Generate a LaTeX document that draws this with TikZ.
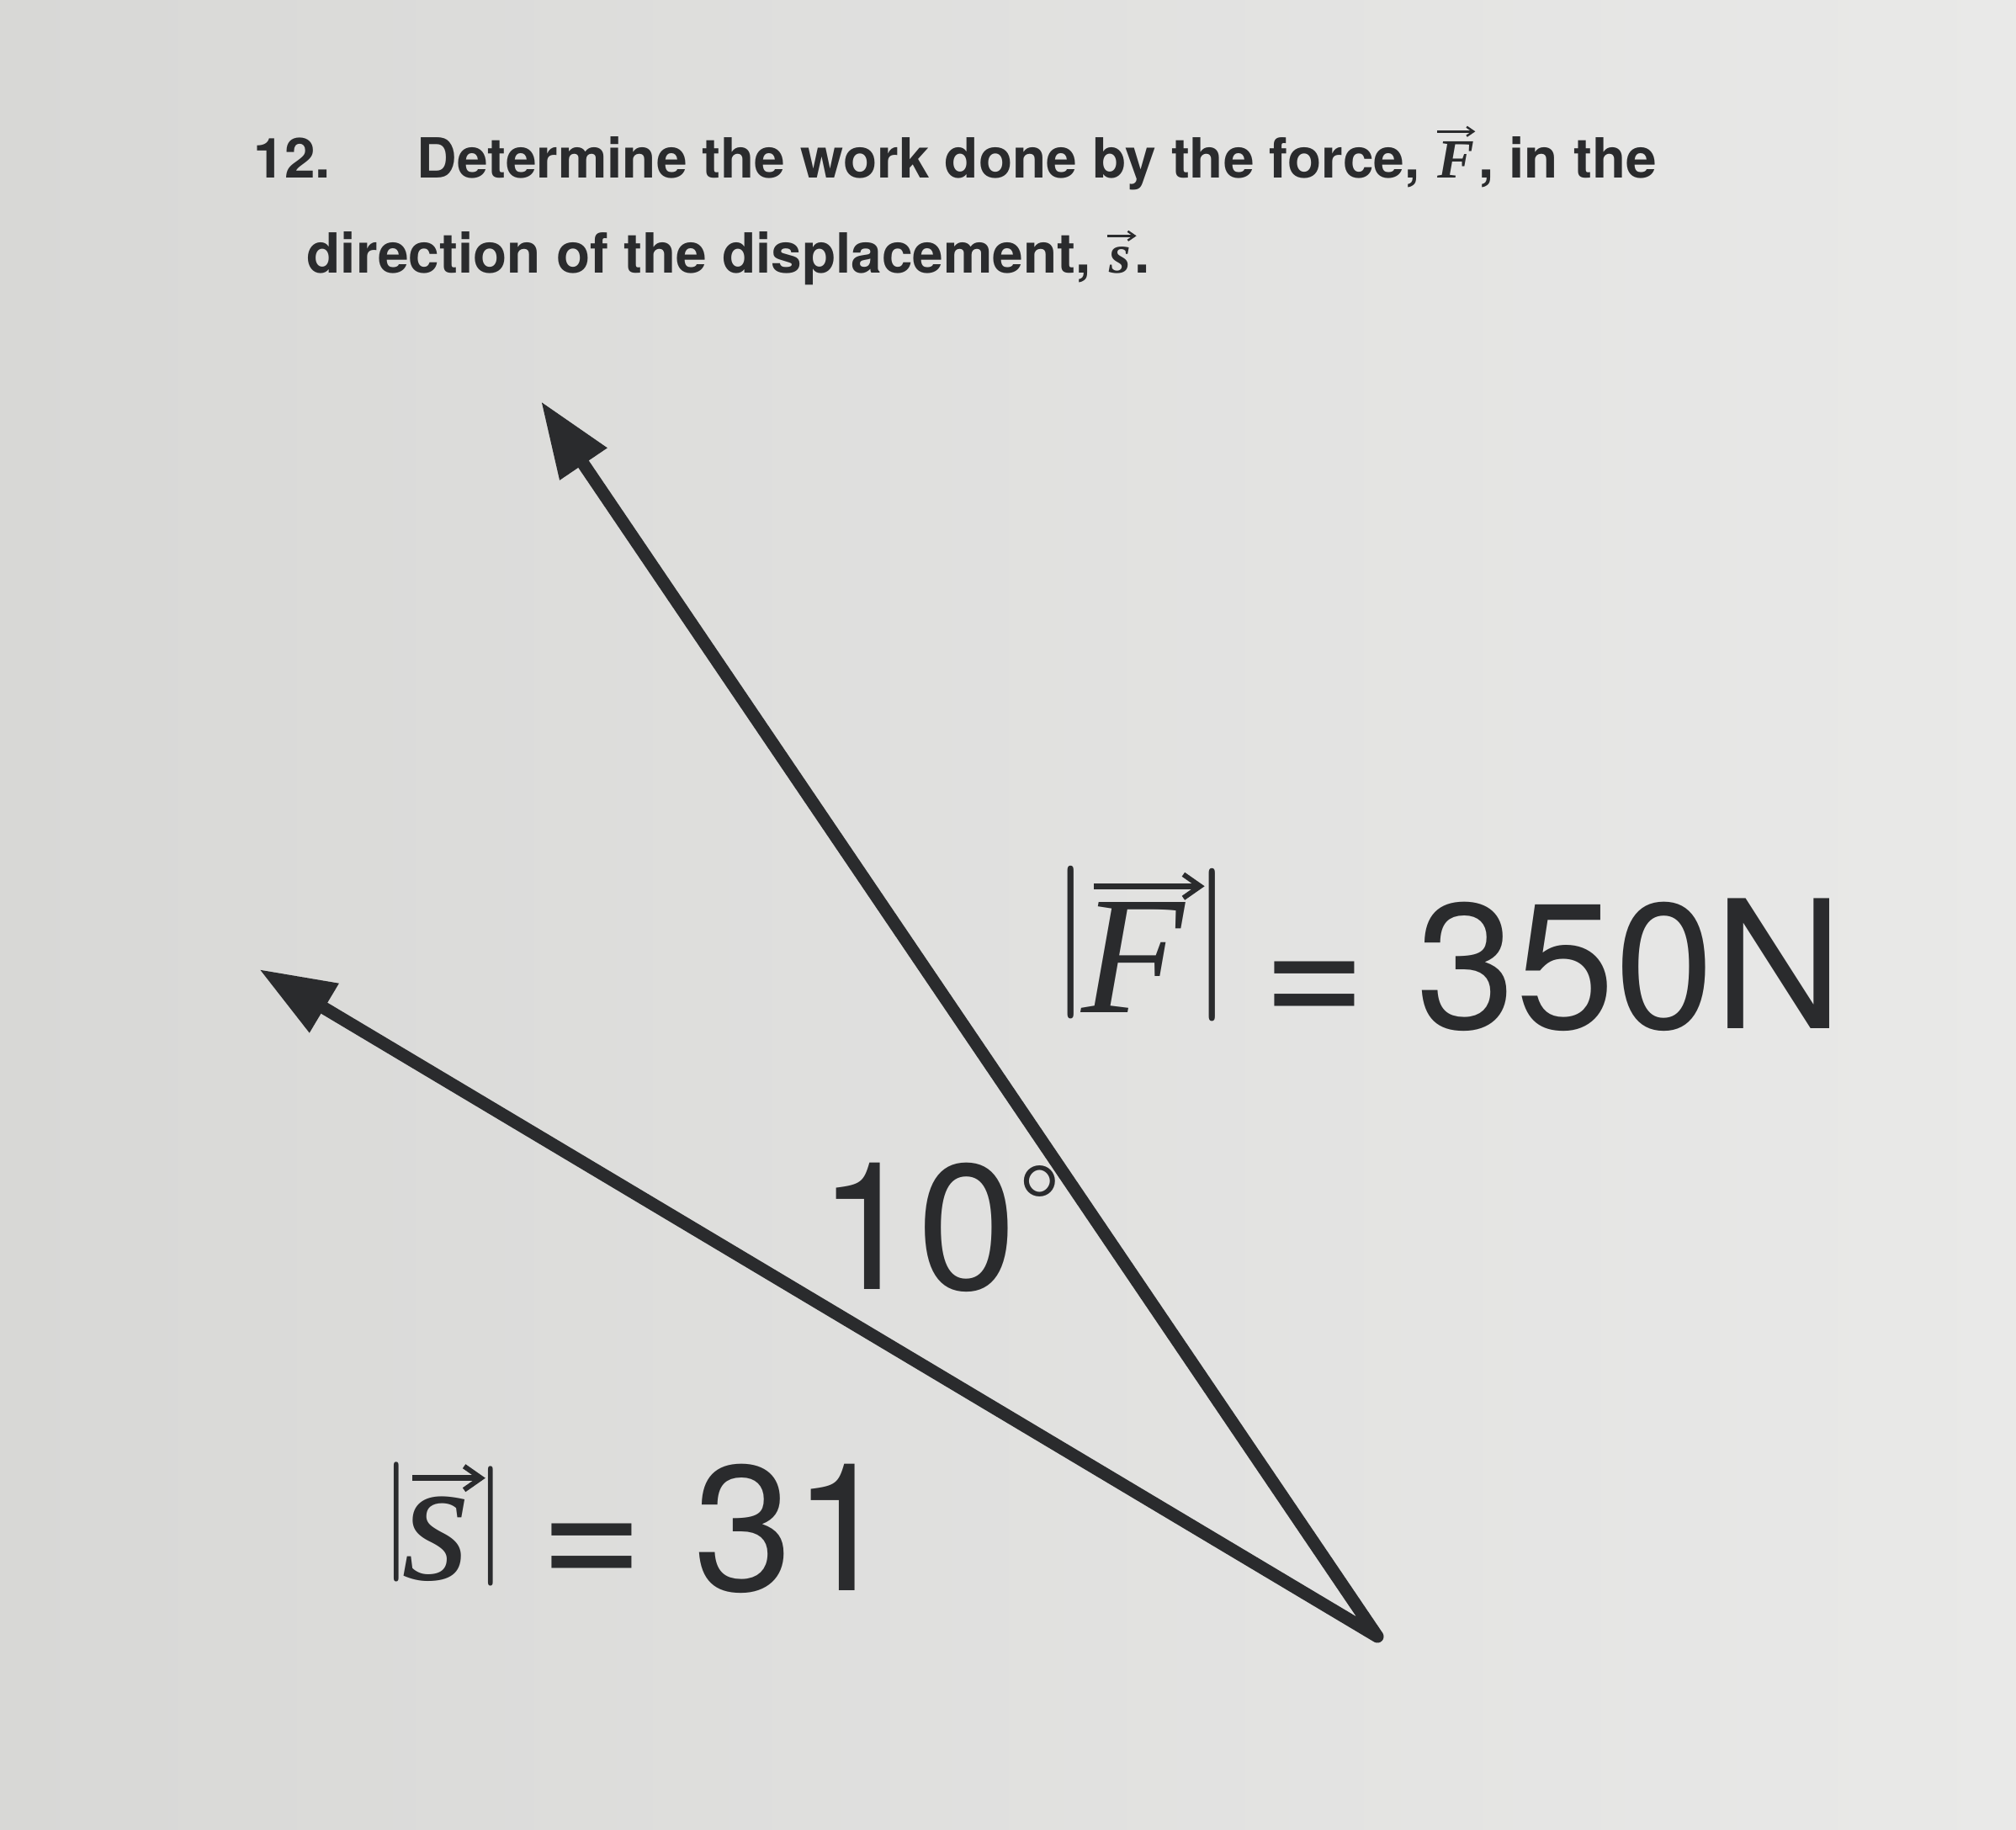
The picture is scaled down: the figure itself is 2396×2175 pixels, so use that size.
\documentclass[tikz,border=0pt]{standalone}
\usepackage{fontspec}
\setmainfont{TeX Gyre Heros}
\newfontfamily\tnr{Liberation Serif}
\usetikzlibrary{arrows.meta}
\definecolor{paperL}{RGB}{216,216,214}
\definecolor{paperR}{RGB}{233,233,232}
\definecolor{ink}{RGB}{42,43,45}
\newcommand{\magbar}[2]{\makebox[0.1cm][c]{\raisebox{#2}{\scalebox{#1}{\fontsize{20}{20}\selectfont$|$}}}}
\tikzset{
  txt/.style={inner sep=0pt, anchor=base west, text=ink},
  title/.style={txt, font=\fontsize{18.7}{22}\selectfont\bfseries},
  titlevar/.style={txt, font=\tnr\fontsize{18.7}{22}\selectfont\bfseries\itshape},
  big/.style={txt, font=\fontsize{60.3}{62}\selectfont},
  accbig/.style={draw=ink, line width=0.07cm, -{Straight Barb[length=0.2cm,width=0.28cm,line width=0.06cm]}},
  accsmall/.style={draw=ink, line width=0.03cm, -{Straight Barb[length=0.08cm,width=0.11cm,line width=0.025cm]}},
  vecline/.style={draw=ink, line width=0.15cm, line join=round,
    {Triangle[length=0.9cm,width=0.64cm]}-{Triangle[length=0.9cm,width=0.64cm]}}
}
\begin{document}
\begin{tikzpicture}[x=0.01cm,y=-0.01cm]
\useasboundingbox (0,0) rectangle (2396,2175);
\shade[left color=paperL, right color=paperR] (0,0) rectangle (2396,2175);

% title
\node[title] (num) at (301,211) {12.};
\node[title] (l1a) at (495,211) {Determine the work done by the force,};
\node[titlevar] (tF) at ([xshift=0.2cm]l1a.base east) {F};
\node[title] (l1b) at ([xshift=0.03cm]tF.base east) {, in the};
\draw[accsmall] ([xshift=0.0cm,yshift=0.11cm]tF.north west) -- ([xshift=0.0cm,yshift=0.11cm]tF.north east);
\node[title] (l2a) at (364,324) {direction of the displacement,};
\node[titlevar] (ts) at ([xshift=0.2cm]l2a.base east) {s};
\node[title] (l2b) at ([xshift=0.03cm]ts.base east) {.};
\draw[accsmall] ([xshift=-0.02cm,yshift=0.12cm]ts.north west) -- ([xshift=0.06cm,yshift=0.12cm]ts.north east);

% vectors
\coordinate (O) at (1637,1945);
\coordinate (Ftip) at (643,477);
\coordinate (Stip) at (308,1152);
\draw[vecline] (Stip) -- (O) -- (Ftip);

% |F| = 350N
\node[txt] (FbarL) at (1267,1205) {\magbar{2.49}{0.39cm}};
\node[txt, font=\tnr\itshape\fontsize{56.9}{58}\selectfont] (Fl) at (1285,1203) {F};
\node[txt] (FbarR) at (1435,1208) {\magbar{2.49}{0.39cm}};
\draw[accbig] ([xshift=0.15cm,yshift=0.18cm]Fl.north west) -- ([xshift=0.23cm,yshift=0.18cm]Fl.north east);
\node[big] (Fval) at (1500,1222) {= 350N};

% angle
\node[big] (ang) at (972,1532) {10\hspace{0.02cm}\raisebox{0.57cm}{\fontsize{36}{36}\selectfont °}};

% |s| = 31
\node[txt] (SbarL) at (466,1878) {\magbar{1.95}{0.34cm}};
\node[txt, font=\tnr\itshape\fontsize{59.5}{60}\selectfont] (sl) at (477,1877) {s};
\node[txt] (SbarR) at (578,1883) {\magbar{1.95}{0.34cm}};
\draw[accbig] ([xshift=0.13cm,yshift=0.21cm]sl.north west) -- ([xshift=0.17cm,yshift=0.21cm]sl.north east);
\node[big] (Sval) at (641,1890) {= 31};
\end{tikzpicture}
\end{document}
